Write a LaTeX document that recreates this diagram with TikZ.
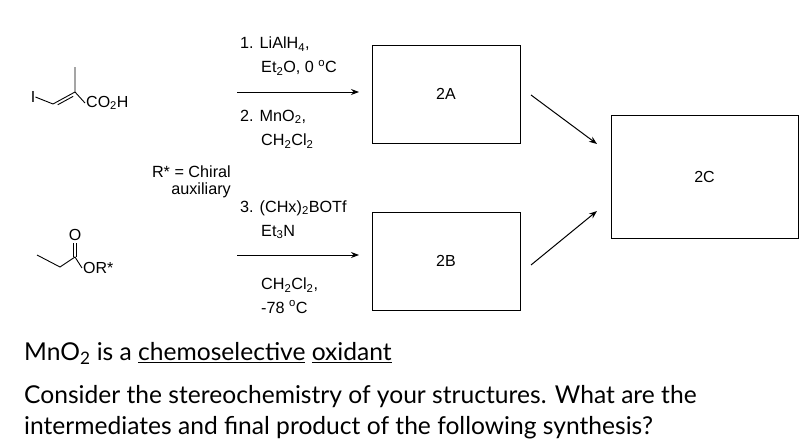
\documentclass[tikz,border=0pt]{standalone}
\usepackage{fontspec}
\setmainfont{Liberation Sans}
\newfontfamily\qfont{Lato}
\usetikzlibrary{arrows.meta,calc}
\begin{document}
\begin{tikzpicture}[x=1pt,y=-1pt,
  bond/.style={line width=0.9pt},
  arr/.style={line width=1pt,-{Stealth[length=8pt,width=6pt]}},
  box/.style={draw,line width=0.9pt,inner sep=0},
  lab/.style={font=\fontsize{16.2}{19}\selectfont,anchor=west,inner sep=0},
  q/.style={font=\qfont\fontsize{24.6}{28}\selectfont,anchor=west,inner sep=0}]
\useasboundingbox (0,0) rectangle (807,442);
% top molecule
\node[inner sep=0,font=\fontsize{16}{18}\selectfont] (I) at (33,97) {I};
\coordinate (a1) at (53,104);
\coordinate (a2) at (75,92);
\coordinate (a3) at (75,67);
\node[inner sep=1pt,anchor=west,font=\fontsize{16}{18}\selectfont] (co) at (85,103) {CO\textsubscript{2}H};
\draw[bond] (I.east) -- (a1) -- (a2) -- (a3);
\draw[bond] ($(a1)!0.15!(a2)+(1.4,2.6)$) -- ($(a1)!0.85!(a2)+(1.4,2.6)$);
\draw[bond] (a2) -- (co.west);
% bottom molecule
\coordinate (b0) at (37,255);
\coordinate (b1) at (60,267);
\coordinate (b2) at (75,257);
\node[inner sep=0,font=\fontsize{16}{18}\selectfont] (O) at (75,235) {O};
\node[inner sep=1pt,anchor=west,font=\fontsize{16}{18}\selectfont] (or) at (82,268) {OR*};
\draw[bond] (b0) -- (b1) -- (b2) -- (or.west);
\draw[bond] (73.5,257) -- (73.5,243) (76.5,257) -- (76.5,243);
% labels
\node[lab,anchor=east] (rs1) at (231,172) {R* = Chiral};
\node[lab,anchor=east] (rs2) at (231,190) {auxiliary};
\node[lab] (t1) at (240,44) {1. LiAlH\textsubscript{4},};
\node[lab] (t2) at (261,68) {Et\textsubscript{2}O, 0 \textsuperscript{o}C};
\node[lab] (t3) at (240,117) {2. MnO\textsubscript{2},};
\node[lab] (t4) at (261,141) {CH\textsubscript{2}Cl\textsubscript{2}};
\node[lab] (t5) at (240,208) {3. (CHx)\textsubscript{2}BOTf};
\node[lab] (t6) at (261,232) {Et\textsubscript{3}N};
\node[lab] (t7) at (261,285) {CH\textsubscript{2}Cl\textsubscript{2},};
\node[lab] (t8) at (261,307) {-78 \textsuperscript{o}C};
% boxes
\node[box,minimum width=148pt,minimum height=98pt] (A) at (446,94) {\fontsize{16}{18}\selectfont 2A};
\node[box,minimum width=148pt,minimum height=98pt] (B) at (446,261) {\fontsize{16}{18}\selectfont 2B};
\node[box,minimum width=187pt,minimum height=123pt] (C) at (704.5,176.5) {\fontsize{16}{18}\selectfont 2C};
\coordinate (h1) at (237,92); \coordinate (h2) at (359,92);
\coordinate (h3) at (237,255); \coordinate (h4) at (359,255);
\draw[arr] (h1) -- (h2);
\draw[arr] (h3) -- (h4);
\coordinate (d1) at (531,95); \coordinate (d2) at (597,144);
\coordinate (d3) at (531,265); \coordinate (d4) at (597,211);
\draw[arr] (d1) -- (d2);
\draw[arr] (d3) -- (d4);
% question text
\node[q] (m) at (24,353) {MnO\textsubscript{2} is a \underline{chemoselective} \underline{oxidant}};
\node[q] (c1) at (24,397) {Consider the stereochemistry of your structures. What are the};
\node[q] (c2) at (24,428) {intermediates and final product of the following synthesis?};
\end{tikzpicture}
\end{document}
